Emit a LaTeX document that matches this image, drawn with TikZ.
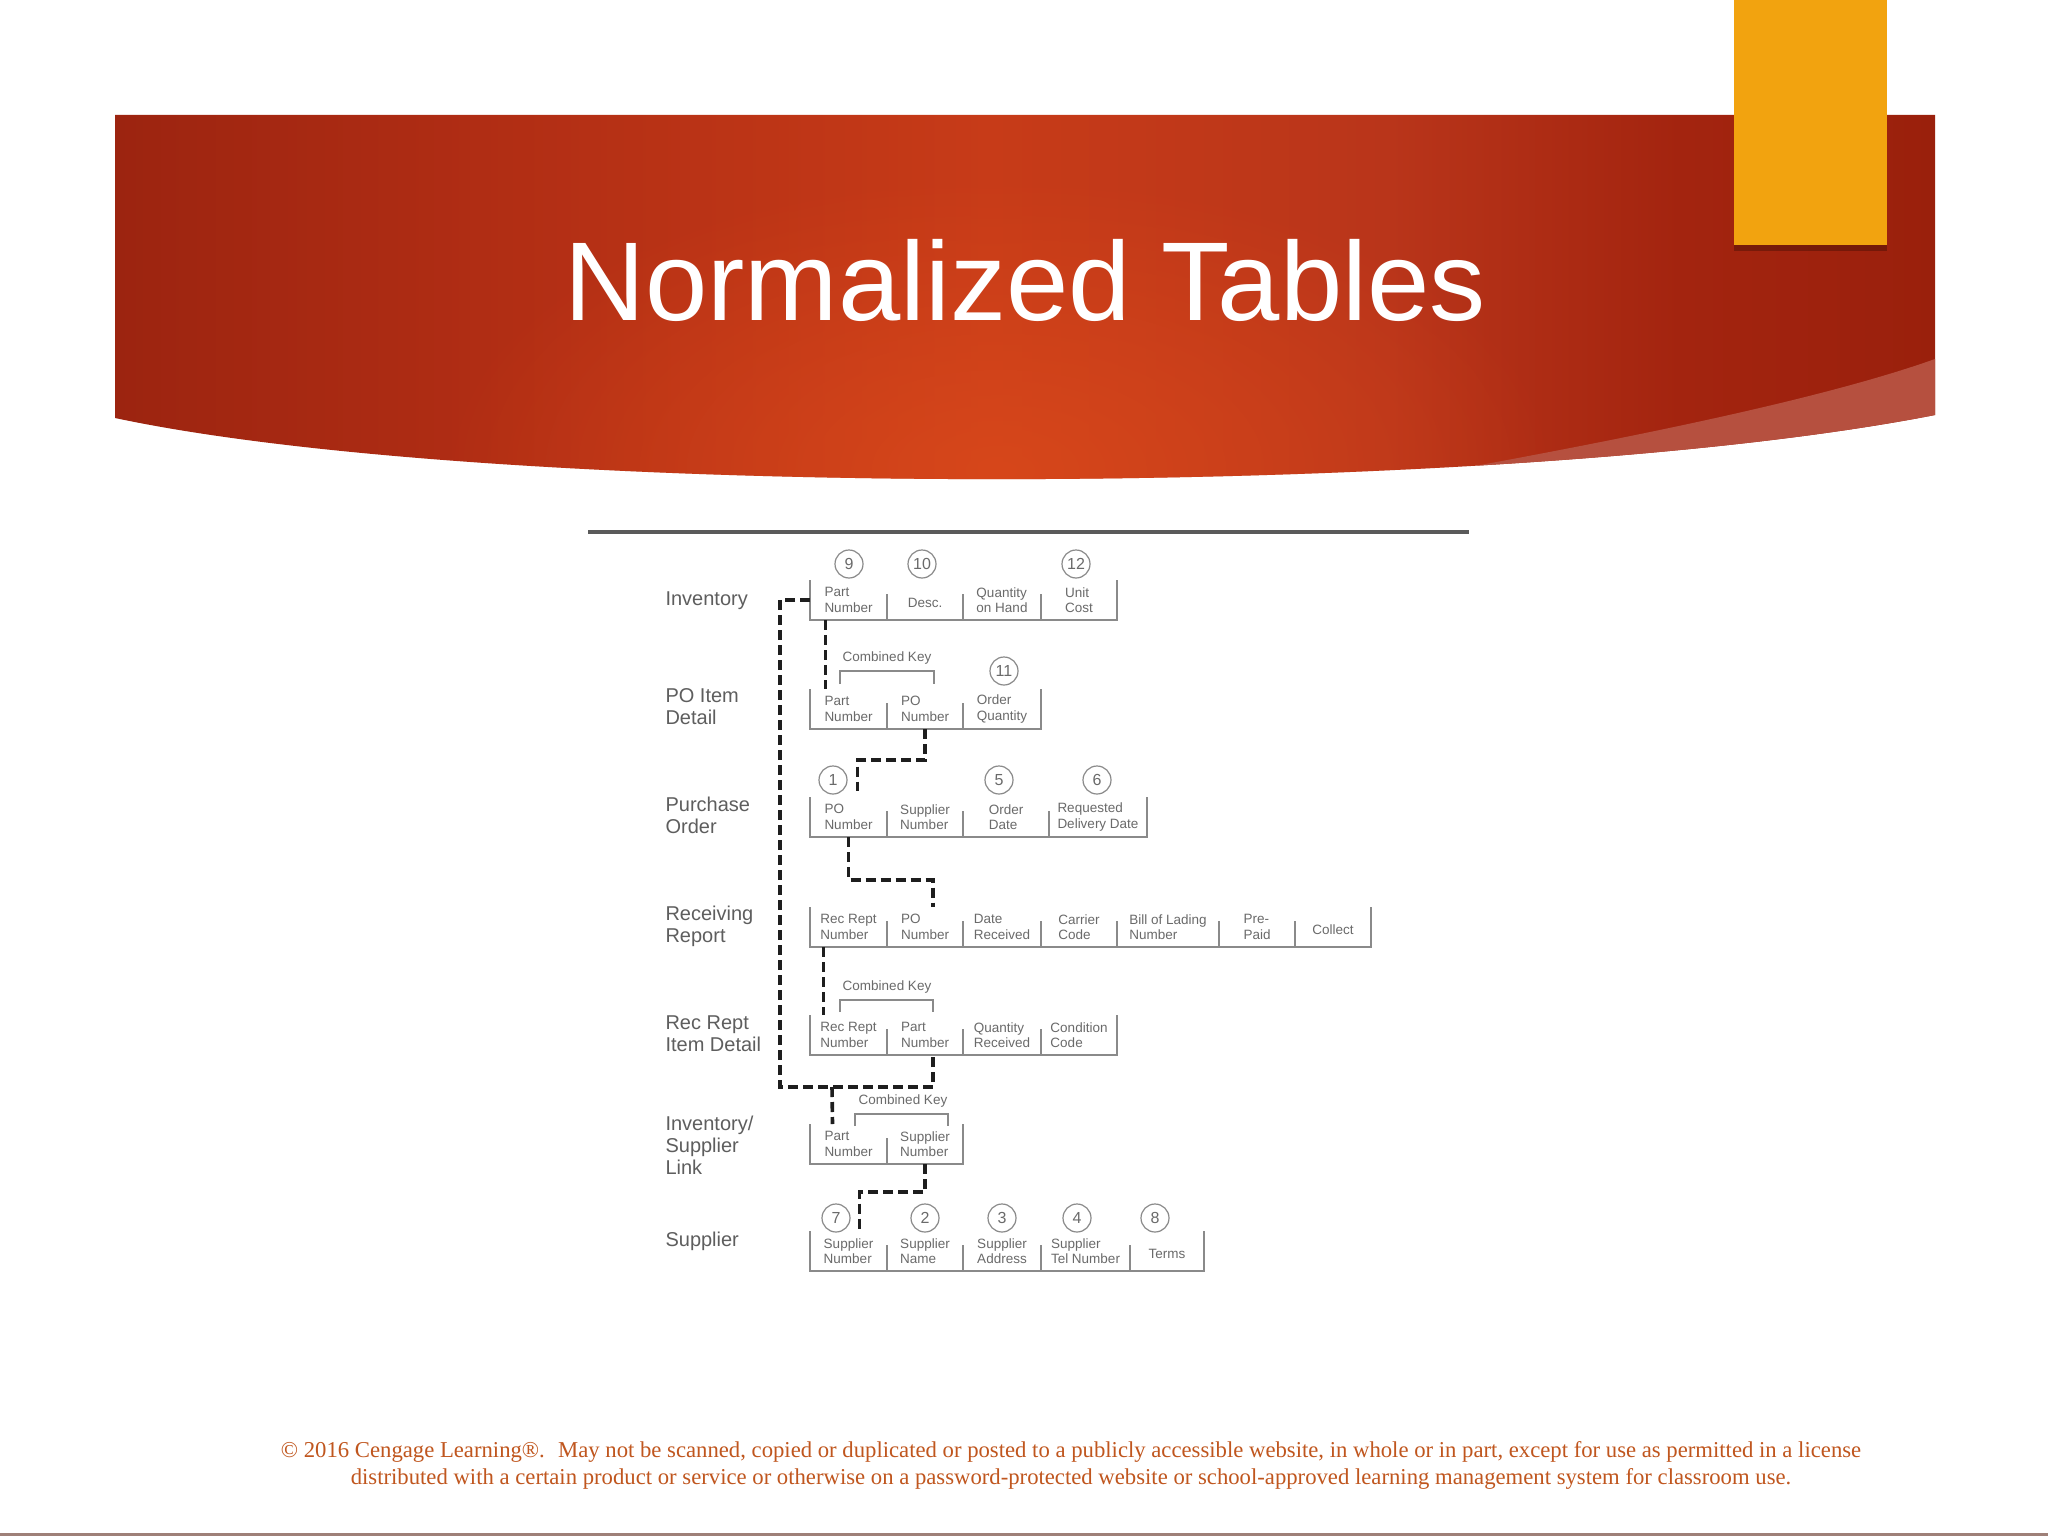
\documentclass[tikz,border=0pt]{standalone}
\usepackage{fontspec}
\setmainfont{Liberation Sans}
\newfontfamily\footfont{Liberation Serif}
\usetikzlibrary{calc,fadings}
\definecolor{banL}{HTML}{9C2410}
\definecolor{banA}{HTML}{B02D14}
\definecolor{banmid}{HTML}{C73B18}
\definecolor{banB}{HTML}{B9351A}
\definecolor{banC}{HTML}{A3240F}
\definecolor{banR}{HTML}{9A200C}
\definecolor{glow}{HTML}{DC4B1C}
\definecolor{swoosh}{HTML}{B6503F}
\definecolor{tabor}{HTML}{F2A30F}
\definecolor{rule}{HTML}{5A5A5A}
\definecolor{tblgray}{HTML}{8A8A8A}
\definecolor{celltext}{HTML}{6A6A6A}
\definecolor{rowtext}{HTML}{5E5E5E}
\definecolor{link}{HTML}{1E1E1E}
\definecolor{foottext}{HTML}{C0561E}
\definecolor{edge}{HTML}{9E8078}
\pgfdeclarehorizontalshading{bannershade}{100bp}{color(0bp)=(banL); color(25bp)=(banL); color(35bp)=(banA); color(49bp)=(banmid); color(60bp)=(banB); color(68bp)=(banC); color(75bp)=(banR); color(100bp)=(banR)}
\tikzfading[name=glowfade, inner color=transparent!25, outer color=transparent!100]
\tikzset{
  tbl/.style={draw=tblgray, line width=1.4pt},
  key/.style={draw=link, line width=3.6pt, dash pattern=on 10pt off 5pt},
  cell/.style={anchor=south west, minimum height=40pt, inner sep=0pt, outer sep=0pt, align=left, text=celltext, font=\fontsize{13.5}{15.5}\selectfont},
  num/.style={circle, draw=tblgray, line width=1.2pt, minimum size=28pt, inner sep=0pt, text=celltext, font=\fontsize{16}{16}\selectfont},
  rowlab/.style={anchor=west, align=left, text=rowtext, font=\fontsize{20}{22}\selectfont},
  ckey/.style={text=celltext, font=\fontsize{13.5}{14}\selectfont},
  foot/.style={align=center, text=foottext, font=\footfont\fontsize{22.7}{27}\selectfont},
}

\begin{document}
\begin{tikzpicture}[x=1pt, y=-1pt]
  \useasboundingbox[fill=white] (0,0) rectangle (2048,1536);

  % title banner
  \shade[shading=bannershade]
    (115,115) -- (1935,115) -- (1935,415) .. controls (1500,500) and (500,500) .. (115,418) -- cycle;
  \begin{scope}
    \clip (115,115) -- (1935,115) -- (1935,415) .. controls (1500,500) and (500,500) .. (115,418) -- cycle;
    \fill[glow, path fading=glowfade] (1000,470) ellipse [x radius=560, y radius=300];
    \fill[swoosh] (1420,476) .. controls (1620,440) and (1820,400) .. (1935,359) -- (1960,359) -- (1960,520) -- cycle;
  \end{scope}
  \fill[black, opacity=0.25] (1734,245) rectangle (1887,251);
  \fill[tabor] (1734,0) rectangle (1887,245);
  \node[anchor=base, text=white, font=\fontsize{112}{120}\selectfont] (title) at (1025,320) {Normalized Tables};

  \draw[rule, line width=3.5pt] (588,532) -- (1469,532);

  % row names
  \node[rowlab] (lab-inv) at (662,601) {Inventory};
  \node[rowlab] (lab-pid) at (662,707) {PO Item\\Detail};
  \node[rowlab] (lab-po) at (662,815) {Purchase\\Order};
  \node[rowlab] (lab-rr) at (662,926) {Receiving\\Report};
  \node[rowlab] (lab-rri) at (662,1034) {Rec Rept\\Item Detail};
  \node[rowlab] (lab-isl) at (662,1145) {Inventory/\\Supplier\\Link};
  \node[rowlab] (lab-sup) at (662,1241) {Supplier};

  % Inventory
  \foreach \nm/\x/\w/\txt in {pn/810/77/{Part\\Number}, ds/887/76/{\mbox{}\\Desc.}, qh/963/78/{Quantity\\on Hand}, uc/1041/76/{Unit\\Cost}}
    \node[cell, minimum width=\w pt] (inv-\nm) at (\x,620) {\txt};
  \draw[tbl] (inv-pn.north west) -- (inv-pn.south west) -- (inv-uc.south east) -- (inv-uc.north east);
  \foreach \nm in {ds,qh,uc} \draw[tbl] (inv-\nm.south west) -- ++(0,-26);
  \node[num] (n9) at (849,564) {9};
  \node[num] (n10) at (922,564) {10};
  \node[num] (n12) at (1076,564) {12};

  % PO Item Detail
  \foreach \nm/\x/\w/\txt in {pn/810/77/{Part\\Number}, po/887/76/{PO\\Number}, oq/963/78/{Order\\Quantity}}
    \node[cell, minimum width=\w pt] (pid-\nm) at (\x,729) {\txt};
  \draw[tbl] (pid-pn.north west) -- (pid-pn.south west) -- (pid-oq.south east) -- (pid-oq.north east);
  \foreach \nm in {po,oq} \draw[tbl] (pid-\nm.south west) -- ++(0,-26);
  \node[ckey] (pid-ck) at (887,658) {Combined Key};
  \draw[tbl] (840,684) -- (840,671) -- (934,671) -- (934,684);
  \node[num] (n11) at (1004,671) {11};

  % Purchase Order
  \foreach \nm/\x/\w/\txt in {pn/810/77/{PO\\Number}, sn/887/76/{Supplier\\Number}, od/963/86/{Order\\Date}, rd/1049/98/{Requested\\Delivery Date}}
    \node[cell, minimum width=\w pt] (po-\nm) at (\x,837) {\txt};
  \draw[tbl] (po-pn.north west) -- (po-pn.south west) -- (po-rd.south east) -- (po-rd.north east);
  \foreach \nm in {sn,od,rd} \draw[tbl] (po-\nm.south west) -- ++(0,-26);
  \node[num] (n1) at (833,780) {1};
  \node[num] (n5) at (999,780) {5};
  \node[num] (n6) at (1097,780) {6};

  % Receiving Report
  \foreach \nm/\x/\w/\txt in {rn/810/77/{Rec Rept\\Number}, po/887/76/{PO\\Number}, dr/963/78/{Date\\Received}, cc/1041/76/{Carrier\\Code}, bl/1117/102/{Bill of Lading\\Number}, pp/1219/76/{Pre-\\Paid}, co/1295/76/{\mbox{}\\Collect}}
    \node[cell, minimum width=\w pt] (rr-\nm) at (\x,947) {\txt};
  \draw[tbl] (rr-rn.north west) -- (rr-rn.south west) -- (rr-co.south east) -- (rr-co.north east);
  \foreach \nm in {po,dr,cc,bl,pp,co} \draw[tbl] (rr-\nm.south west) -- ++(0,-26);

  % Rec Rept Item Detail
  \foreach \nm/\x/\w/\txt in {rn/810/77/{Rec Rept\\Number}, pn/887/76/{Part\\Number}, qr/963/78/{Quantity\\Received}, cd/1041/76/{Condition\\Code}}
    \node[cell, minimum width=\w pt] (rri-\nm) at (\x,1055) {\txt};
  \draw[tbl] (rri-rn.north west) -- (rri-rn.south west) -- (rri-cd.south east) -- (rri-cd.north east);
  \foreach \nm in {pn,qr,cd} \draw[tbl] (rri-\nm.south west) -- ++(0,-26);
  \node[ckey] (rri-ck) at (887,987) {Combined Key};
  \draw[tbl] (840,1012) -- (840,1000) -- (933,1000) -- (933,1012);

  % Inventory/Supplier Link
  \foreach \nm/\x/\w/\txt in {pn/810/77/{Part\\Number}, sn/887/76/{Supplier\\Number}}
    \node[cell, minimum width=\w pt] (isl-\nm) at (\x,1164) {\txt};
  \draw[tbl] (isl-pn.north west) -- (isl-pn.south west) -- (isl-sn.south east) -- (isl-sn.north east);
  \draw[tbl] (isl-sn.south west) -- ++(0,-26);
  \node[ckey] (isl-ck) at (903,1101) {Combined Key};
  \draw[tbl] (855,1126) -- (855,1114) -- (948,1114) -- (948,1126);

  % Supplier
  \foreach \nm/\x/\w/\txt in {sn/810/77/{Supplier\\Number}, nm/887/76/{Supplier\\Name}, ad/963/78/{Supplier\\Address}, tn/1041/89/{Supplier\\Tel Number}, tm/1130/74/{\mbox{}\\Terms}}
    \node[cell, minimum width=\w pt] (sup-\nm) at (\x,1271) {\txt};
  \draw[tbl] (sup-sn.north west) -- (sup-sn.south west) -- (sup-tm.south east) -- (sup-tm.north east);
  \foreach \nm in {nm,ad,tn,tm} \draw[tbl] (sup-\nm.south west) -- ++(0,-26);
  \node[num] (n7) at (836,1218) {7};
  \node[num] (n2) at (925,1218) {2};
  \node[num] (n3) at (1002,1218) {3};
  \node[num] (n4) at (1077,1218) {4};
  \node[num] (n8) at (1155,1218) {8};

  % key links
  \coordinate (loop) at (780,1087);
  \coordinate (join) at (832,1087);
  \draw[key] (inv-pn.west) -| (loop) -| ($(rri-pn.south)+(8,0)$);
  \draw[key] ($(inv-pn.south)+(-23,0)$) -- ($(pid-pn.north)+(-23,0)$);
  \draw[key] (pid-po.south) -- ++(0,31) -| ($(po-pn.north)+(9,-6)$);
  \draw[key] (po-pn.south) -- ++(0,43) -| ($(rr-po.north)+(8,0)$);
  \draw[key] ($(rr-rn.south)+(-25,0)$) -- ($(rri-rn.north)+(-25,0)$);
  \draw[key] (join) -- ($(isl-pn.north)+(-16,0)$);
  \draw[key] (isl-sn.south) -- ++(0,28) -| ($(sup-sn.north)+(11,0)$);

  % footer
  \node[foot] (credit) at (1071,1465) {© 2016 Cengage Learning®.~ May not be scanned, copied or duplicated or posted to a publicly accessible website, in whole or in part, except for use as permitted in a license\\distributed with a certain product or service or otherwise on a password-protected website or school-approved learning management system for classroom use.};
  \draw[edge, line width=3pt] (0,1534.5) -- (2048,1534.5);
\end{tikzpicture}
\end{document}
